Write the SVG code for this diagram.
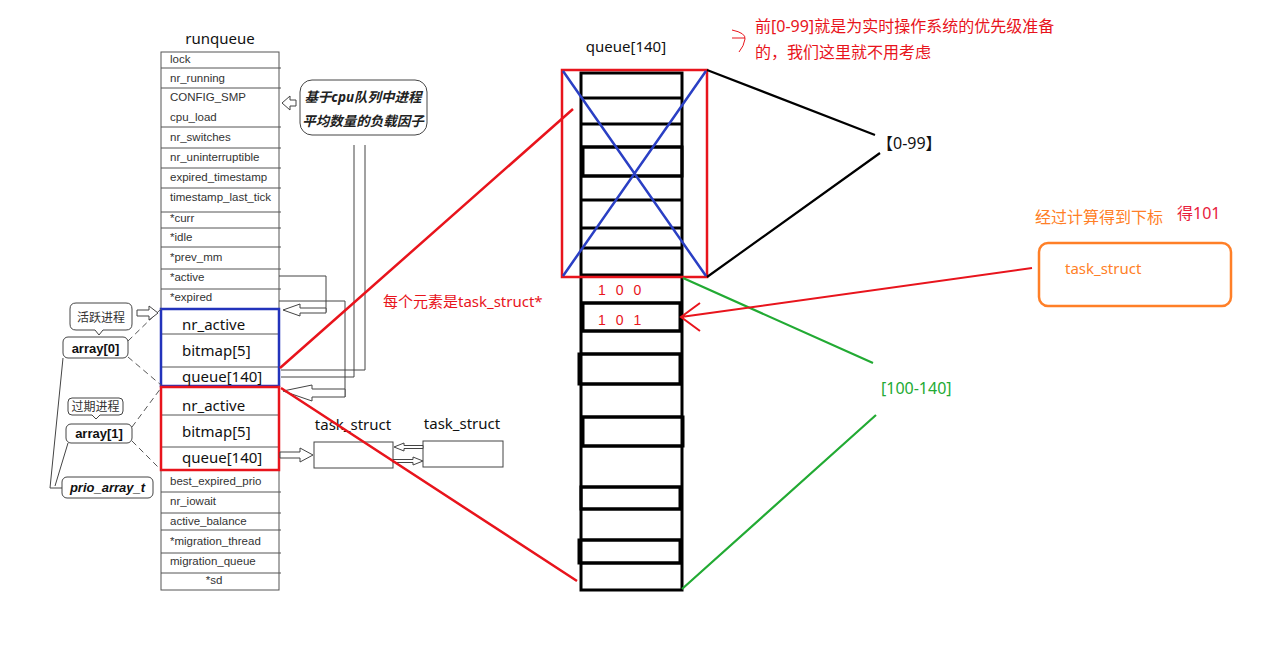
<svg xmlns="http://www.w3.org/2000/svg" width="1282" height="653" viewBox="0 0 1282 653">
<style>
.t{font-family:"Liberation Sans",Arial,sans-serif;font-size:11.5px;fill:#333;dominant-baseline:central}
.b{font-family:"Noto Sans","Liberation Sans",sans-serif;font-size:15px;fill:#111;dominant-baseline:central}
.cj{font-family:"Noto Sans","Noto Sans CJK SC",sans-serif;dominant-baseline:central}
.cell{fill:none;stroke:#555;stroke-width:1}
.thin{fill:none;stroke:#444;stroke-width:1}
.dash{fill:none;stroke:#555;stroke-width:1;stroke-dasharray:6 4}
.q{fill:none;stroke:#000;stroke-width:3}
.harrow{fill:#fff;stroke:#444;stroke-width:1}
</style>
<rect width="1282" height="653" fill="#fff"/>

<g id="runqueue">
<text class="b" x="220" y="38" text-anchor="middle">runqueue</text>
<rect class="cell" x="161" y="52" width="118" height="538"/>
<path class="cell" d="M161 68H281M161 88H281M161 127H281M161 148H281M161 168H281M161 188H281M161 212H281M161 228H281M161 247H281M161 269H281M161 289H281M161 492H281M161 513H281M161 530H281M161 553H281M161 573H281"/>
<text class="t" x="170" y="59">lock</text>
<text class="t" x="170" y="78">nr_running</text>
<text class="t" x="170" y="97">CONFIG_SMP</text>
<text class="t" x="170" y="117">cpu_load</text>
<text class="t" x="170" y="137">nr_switches</text>
<text class="t" x="170" y="157">nr_uninterruptible</text>
<text class="t" x="170" y="177">expired_timestamp</text>
<text class="t" x="170" y="197">timestamp_last_tick</text>
<text class="t" x="170" y="218">*curr</text>
<text class="t" x="170" y="237">*idle</text>
<text class="t" x="170" y="257">*prev_mm</text>
<text class="t" x="170" y="277">*active</text>
<text class="t" x="170" y="297">*expired</text>
<text class="t" x="170" y="481">best_expired_prio</text>
<text class="t" x="170" y="501">nr_iowait</text>
<text class="t" x="170" y="521">active_balance</text>
<text class="t" x="170" y="541">*migration_thread</text>
<text class="t" x="170" y="561">migration_queue</text>
<text class="t" x="214" y="580" text-anchor="middle">*sd</text>
</g>

<g id="array0">
<rect x="161" y="309" width="118" height="77" fill="#fff" stroke="none"/>
<path class="cell" d="M161 334H279M161 367H279"/>
<rect x="161" y="309" width="118" height="77" fill="none" stroke="#2233bb" stroke-width="2.5"/>
<text class="b" x="182" y="324" font-size="15.5">nr_active</text>
<text class="b" x="182" y="350" font-size="15.5">bitmap[5]</text>
<text class="b" x="182" y="376" font-size="15.5">queue[140]</text>
</g>

<g id="array1">
<rect x="161" y="387" width="118" height="83" fill="#fff" stroke="none"/>
<path class="cell" d="M161 415H279M161 447H279"/>
<rect x="161" y="387" width="118" height="83" fill="none" stroke="#e8141c" stroke-width="2.5"/>
<text class="b" x="182" y="405" font-size="15.5">nr_active</text>
<text class="b" x="182" y="431" font-size="15.5">bitmap[5]</text>
<text class="b" x="182" y="457" font-size="15.5">queue[140]</text>
</g>

<g id="label-active">
<path class="thin" d="M76 303H126Q132 303 132 309V324Q132 330 126 330H103L99 335L95 330H76Q70 330 70 324V309Q70 303 76 303Z"/>
<text class="cj" x="101" y="317" font-size="12" fill="#333" text-anchor="middle">活跃进程</text>
</g>
<g id="array0-label">
<rect class="thin" x="63" y="337" width="65" height="21" rx="5"/>
<text x="95.5" y="348" font-family="Liberation Sans,Arial,sans-serif" font-size="13" font-weight="bold" fill="#111" text-anchor="middle" dominant-baseline="central">array[0]</text>
</g>
<g id="label-expired">
<path class="thin" d="M72 398H119Q123 398 123 402V411Q123 415 119 415H100L96 419L92 415H72Q68 415 68 411V402Q68 398 72 398Z"/>
<text class="cj" x="95.5" y="406" font-size="12" fill="#333" text-anchor="middle">过期进程</text>
</g>
<g id="array1-label">
<rect class="thin" x="66" y="424" width="66" height="19" rx="5"/>
<text x="99" y="433.5" font-family="Liberation Sans,Arial,sans-serif" font-size="13" font-weight="bold" fill="#111" text-anchor="middle" dominant-baseline="central">array[1]</text>
</g>
<g id="prio-array-t">
<rect class="thin" x="62" y="477" width="91" height="21" rx="5"/>
<text x="107.5" y="487.5" font-family="Liberation Sans,Arial,sans-serif" font-size="13" font-weight="bold" font-style="italic" fill="#111" text-anchor="middle" dominant-baseline="central">prio_array_t</text>
</g>

<g id="cpu-note">
<rect class="thin" x="300" y="80" width="127" height="55" rx="12"/>
<text class="cj" x="363" y="97" font-size="13.5" font-weight="bold" font-style="italic" fill="#222" text-anchor="middle">基于cpu队列中进程</text>
<text class="cj" x="363" y="121" font-size="13.5" font-weight="bold" font-style="italic" fill="#222" text-anchor="middle">平均数量的负载因子</text>
</g>

<g id="task-struct-1">
<text class="b" x="353" y="424" text-anchor="middle">task_struct</text>
<rect class="thin" x="314" y="442" width="79" height="26"/>
</g>
<g id="task-struct-2">
<text class="b" x="462" y="423" text-anchor="middle">task_struct</text>
<rect class="thin" x="423" y="441" width="80" height="26"/>
</g>

<g id="queue140">
<text class="b" x="626" y="46" text-anchor="middle" font-size="16">queue[140]</text>
<rect class="q" x="581" y="73" width="101" height="517"/>
<path class="q" d="M581 98H682M581 124H682M581 147H682M581 176H682M581 200H682M581 228H682M581 248H682M581 275H682M581 303H682M581 331H682M581 354H682M581 384H682M581 417H682M581 446H682M581 487H682M581 509H682M581 540H682M581 563H682"/>
<rect class="q" x="583" y="147" width="99" height="29"/>
<rect class="q" x="583" y="303" width="97" height="28"/>
<rect class="q" x="579" y="354" width="101" height="30"/>
<rect class="q" x="583" y="417" width="100" height="29"/>
<rect class="q" x="581" y="487" width="99" height="22"/>
<rect class="q" x="579" y="540" width="101" height="23"/>
</g>

<g id="realtime-range">
<rect x="562" y="70" width="145" height="207" fill="none" stroke="#e8141c" stroke-width="2.5"/>
<path d="M563 71L706 276M706 71L563 276" stroke="#2a3fc4" stroke-width="2.5" fill="none"/>
</g>

<g id="task-struct-target">
<rect x="1039" y="243" width="192" height="63" rx="9" fill="none" stroke="#ff7f27" stroke-width="2.5"/>
<text class="cj" x="1065" y="268" font-size="15" fill="#ff7f27">task_struct</text>
</g>

<g id="connectors">
<path class="dash" d="M128 341L161 309M128 357L161 385M132 427L161 388M132 441L161 470"/>
<path class="thin" d="M63 358L50 488H62M68 443L55 486"/>
<polygon class="harrow" points="137,310 149,310 149,306 158,313 149,320 149,316 137,316"/>
<polygon class="harrow" points="282,103 290,96 290,100 296,100 296,106 290,106 290,110"/>
<path class="thin" d="M354 145V377H281M365 145V370H281"/>
<path class="thin" d="M279 276H326V312"/>
<polygon class="harrow" points="283,310 300,304 300,308 326,308 326,313 300,313 300,316"/>
<path class="thin" d="M279 301H345V397"/>
<polygon class="harrow" points="283,391 312,385 312,389 345,389 345,397 312,397 312,401"/>
<polygon class="harrow" points="280,452 300,452 300,448 313,455 300,462 300,458 280,458"/>
<polygon class="harrow" points="394,447 404,443 404,445.5 423,445.5 423,448.5 404,448.5 404,451"/>
<polygon class="harrow" points="423,461 413,457 413,459.5 393,459.5 393,462.5 413,462.5 413,465"/>
<path d="M280 368L573 109M281 388L577 581" stroke="#e8141c" stroke-width="2.5" fill="none"/>
<path d="M707 70L875 135M707 277L880 153" stroke="#000" stroke-width="2.2" fill="none"/>
<path d="M683 278L873 363M682 589L876 415" stroke="#22aa33" stroke-width="2.2" fill="none"/>
<path d="M1032 268L681 317M700 303L681 317L700 331" stroke="#e8141c" stroke-width="2" fill="none"/>
<path d="M732 30Q746 33 745 39Q744 46 739 52M732 38H745" stroke="#e8141c" stroke-width="1" fill="none"/>
</g>

<g id="labels">
<text class="cj" x="877" y="143" font-size="16" fill="#111">【0-99】</text>
<text class="cj" x="881" y="388" font-size="16" fill="#22aa33">[100-140]</text>
<text class="cj" x="383" y="301" font-size="15" fill="#e8141c">每个元素是task_struct*</text>
<text class="cj" x="755" y="26" font-size="16" fill="#e8141c">前[0-99]就是为实时操作系统的优先级准备</text>
<text class="cj" x="755" y="52" font-size="16" fill="#e8141c">的，我们这里就不用考虑</text>
<text class="cj" x="1035" y="217" font-size="16" fill="#ff7f27">经过计算得到下标</text>
<text class="cj" x="1177" y="213" font-size="16" fill="#e8213c">得101</text>
<text x="598" y="290" font-family="Liberation Sans,sans-serif" font-size="14" fill="#e8141c" dominant-baseline="central" letter-spacing="10">100</text>
<text x="598" y="320" font-family="Liberation Sans,sans-serif" font-size="14" fill="#e8141c" dominant-baseline="central" letter-spacing="10">101</text>
</g>
</svg>
